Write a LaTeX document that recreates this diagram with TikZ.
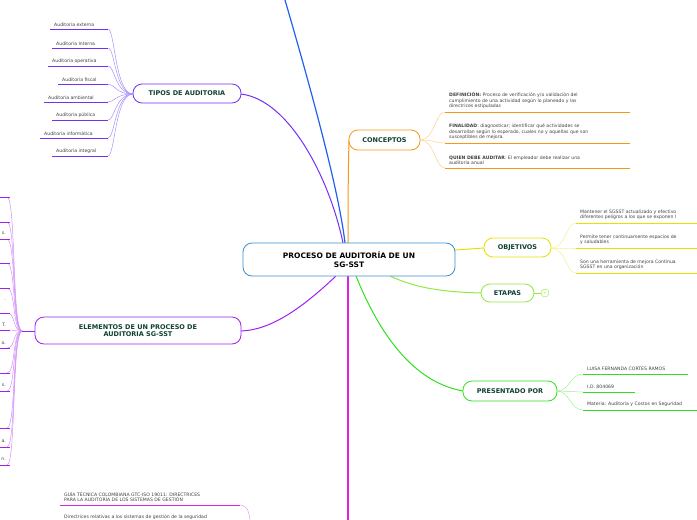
\documentclass[tikz,border=0pt]{standalone}
\usepackage{fontspec}
\setmainfont{DejaVu Sans}
\definecolor{cBlue}{HTML}{2060F0}
\definecolor{cCen}{HTML}{3A8FD0}
\definecolor{cTip}{HTML}{7030F8}
\definecolor{cTipL}{HTML}{A890F8}
\definecolor{cEl}{HTML}{A020F0}
\definecolor{cElL}{HTML}{D090F8}
\definecolor{cOr}{HTML}{F59A10}
\definecolor{cOrL}{HTML}{FAD090}
\definecolor{cYe}{HTML}{E8E000}
\definecolor{cYeL}{HTML}{F4F090}
\definecolor{cEt}{HTML}{90E840}
\definecolor{cGr}{HTML}{30E020}
\definecolor{cGrL}{HTML}{A0F090}
\definecolor{cMa}{HTML}{E020E0}
\definecolor{cMaL}{HTML}{F0A0F0}
\definecolor{cTx}{HTML}{0F4030}
\begin{document}
\begin{tikzpicture}[x=1pt,y=-1pt,
 mainbox/.style={draw=#1,rounded corners=9pt,line width=0.8pt,fill=white,align=center,font=\fontsize{6.5}{7.5}\selectfont\bfseries,text=cTx},
 leaf/.style={font=\fontsize{4.6}{5.6}\selectfont,text=black!75,anchor=south west,align=left,inner sep=1pt},
 ul/.style={draw=#1,line width=1pt}]
\useasboundingbox (0,0) rectangle (697,520);
% trunks
\draw[cBlue,line width=1.2pt] (285,0) .. controls (320,120) and (340,200) .. (345,243);
\draw[cMa,line width=1.2pt] (348,276) -- (348,520);
\draw[cTip,line width=1pt] (241,94) .. controls (290,100) and (330,180) .. (343,243);
\draw[cOr,line width=1pt] (349,140) .. controls (348,180) and (348,220) .. (348,243);
\draw[cYe,line width=1pt] (455,250) -- (484,248);
\draw[cEt,line width=1pt] (390,276) .. controls (420,290) and (450,292) .. (481,293);
\draw[cGr,line width=1pt] (356,276) .. controls (390,360) and (430,385) .. (463,391);
\draw[cEl,line width=1pt] (336,276) .. controls (300,310) and (270,330) .. (241,331);
% nodes
\node[mainbox=cCen,minimum width=212pt,minimum height=33pt,font=\fontsize{7.5}{8.5}\selectfont\bfseries,text=black] (c) at (349,259.5) {PROCESO DE AUDITORÍA DE UN\\SG-SST};
\node[mainbox=cTip,minimum width=108pt,minimum height=19pt] (tipos) at (187,93.5) {TIPOS DE AUDITORIA};
\node[mainbox=cOr,minimum width=71pt,minimum height=20pt] (conc) at (384.5,140) {CONCEPTOS};
\node[mainbox=cYe,minimum width=67pt,minimum height=19pt] (obj) at (517.5,247.5) {OBJETIVOS};
\node[mainbox=cEt,minimum width=53pt,minimum height=18pt] (et) at (507.5,293) {ETAPAS};
\draw[cEt,line width=0.5pt] (534,293) -- (541,293);
\node[draw=cEt,circle,inner sep=0pt,minimum size=8pt,font=\fontsize{4}{4}\selectfont,text=cEt] (etc) at (545,293) {+};
\node[mainbox=cGr,minimum width=94pt,minimum height=20pt] (pres) at (510,391) {PRESENTADO POR};
\node[mainbox=cEl,minimum width=206pt,minimum height=27pt] (el) at (138,330.5) {ELEMENTOS DE UN PROCESO DE\\AUDITORIA SG-SST};
% tipos leaves
\foreach \t/\y/\xs in {Auditoria externa/29/50,Auditoria Interna/48/52,Auditoria operativa/66/48,Auditoria fiscal/84/58,Auditoria ambiental/102/44,Auditoria pública/120/52,Auditoria informática/138/40,Auditoria integral/156/52}{
 \draw[cTipL,line width=0.5pt] (133,94) .. controls (115,94) and (115,\y) .. (108,\y);
 \draw[ul=cTip] (\xs,\y) -- (108,\y);
 \node[leaf] at (\xs+3,\y-1) {\t};
}
% conceptos leaves
\foreach \y in {112,143,168}{
 \draw[cOrL,line width=0.5pt] (420,140) .. controls (435,140) and (435,\y) .. (445,\y);
 \draw[ul=cOr] (445,\y) -- (630,\y);}
\node[leaf] at (448,110) {\textbf{DEFINICIÓN:} Proceso de verificación y/o validación del\\cumplimiento de una actividad según lo planeado y las\\directrices estipuladas};
\node[leaf] at (448,141) {\textbf{FINALIDAD}: diagnosticar; identificar qué actividades se\\desarrollan según lo esperado, cuales no y aquellas que son\\susceptibles de mejora.};
\node[leaf] at (448,166) {\textbf{QUIEN DEBE AUDITAR}: El empleador debe realizar una\\auditoria anual};
% objetivos leaves
\foreach \y in {223,248,273}{
 \draw[cYeL,line width=0.5pt] (551,248) .. controls (566,248) and (566,\y) .. (576,\y);
 \draw[ul=cYe] (576,\y) -- (697,\y);}
\node[leaf] at (579,221) {Mantener el SGSST actualizado y efectivo\\diferentes peligros a los que se exponen l};
\node[leaf] at (579,246) {Permite tener continuamente espacios de\\y saludables};
\node[leaf] at (579,271) {Son una herramienta de mejora Continua\\SGSST en una organización};
% presentado leaves
\foreach \y/\e in {374/688,392/635,410/697}{
 \draw[cGrL,line width=0.5pt] (557,391) .. controls (570,391) and (570,\y) .. (583,\y);
 \draw[ul=cGr] (583,\y) -- (\e,\y);}
\node[leaf] at (586,372) {LUISA FERNANDA CORTES RAMOS};
\node[leaf] at (586,390) {I.D. 804069};
\node[leaf] at (586,408) {Materia: Auditoria y Costos en Seguridad};
% elementos leaves
\foreach \y in {197,222,239,263,288,313,330,348,373,391,428,447,465}{
 \draw[cElL,line width=0.5pt] (22,331) .. controls (12,331) and (16,\y) .. (7,\y);
 \draw[ul=cEl] (0,\y) -- (10,\y);}
\draw[cEl,line width=1pt] (22,331) -- (35,331);
\foreach \t/\y in {s./233,./300,T./325,o./343,s./385,a./441,n./459}{\node[leaf,anchor=east,inner sep=0pt] at (6,\y) {\t};}
% bottom leaves
\draw[cMaL,line width=0.5pt] (240,505) .. controls (248,506) and (249,512) .. (250,520);
\draw[ul=cMa] (60,505) -- (240,505);
\node[leaf] at (63,503) {GUÍA TÉCNICA COLOMBIANA GTC-ISO 19011: DIRECTRICES\\PARA LA AUDITORÍA DE LOS SISTEMAS DE GESTIÓN};
\node[leaf] at (63,521) {Directrices relativas a los sistemas de gestión de la seguridad};
\end{tikzpicture}
\end{document}
